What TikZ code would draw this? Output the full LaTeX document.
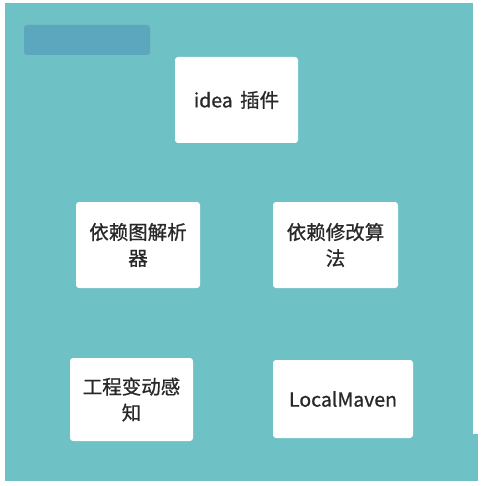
\documentclass[tikz,border=0pt]{standalone}
\usepackage{fontspec}
\setmainfont{Noto Sans CJK SC}[FakeBold=0.8]
\definecolor{teal1}{RGB}{110,193,196}
\definecolor{labelblue}{RGB}{92,166,190}
\definecolor{txt}{RGB}{40,40,40}
\tikzset{
  box/.style={fill=white, rounded corners=3pt, align=center, text=txt,
    font=\fontsize{19.5pt}{26pt}\selectfont, inner sep=0pt},
}
\begin{document}
\begin{tikzpicture}[x=1pt,y=-1pt]
\useasboundingbox (0,0) rectangle (481,486);
\fill[white] (0,0) rectangle (481,486);
\fill[teal1] (5,3) rectangle (473,481);
\fill[teal1] (472,434) rectangle (478,481);
\node[fill=labelblue, rounded corners=3pt, minimum width=126pt, minimum height=30pt, inner sep=0pt] (lbl) at (87,40) {};
\node[box, minimum width=123pt, minimum height=86pt] (idea) at (236.5,100) {idea\hspace{3pt} 插件};
\node[box, minimum width=124pt, minimum height=86pt] (parser) at (138,245) {依赖图解析\\器};
\node[box, minimum width=125pt, minimum height=86pt] (algo) at (335.5,245) {依赖修改算\\法};
\node[box, minimum width=123pt, minimum height=83pt] (sense) at (131.5,399.5) {工程变动感\\知};
\node[box, minimum width=140pt, minimum height=78pt] (maven) at (343,399) {LocalMaven};
\end{tikzpicture}
\end{document}
